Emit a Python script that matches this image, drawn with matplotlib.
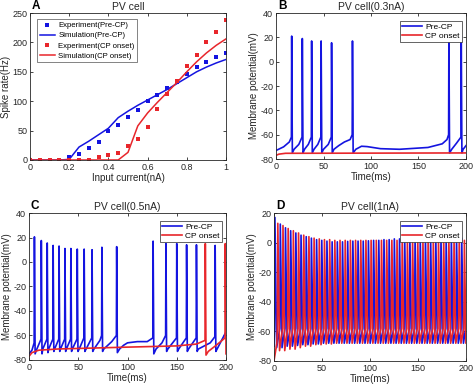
import numpy as np
import matplotlib
matplotlib.use("Agg")
import matplotlib.pyplot as plt

plt.rcParams['font.family'] = ['Liberation Sans', 'DejaVu Sans']
plt.rcParams['axes.unicode_minus'] = False

BLUE = '#1414e0'
RED = '#e8262b'
TXT = '#262626'

# ---- panel A: f-I curves
current = [0, 0.05, 0.1, 0.15, 0.2, 0.25, 0.3, 0.35, 0.4, 0.45, 0.5,
           0.55, 0.6, 0.65, 0.7, 0.75, 0.8, 0.85, 0.9, 0.95, 1.0]
exp_pre = [0, 0, 0, 0, 5, 10, 20, 30, 50, 60, 73,
           85, 100, 110, 122, 133, 147, 158, 166, 176, 182]
sim_pre = [0, 0, 0, 0, 1, 22, 32, 43, 54, 72, 83,
           93, 102, 111, 120, 130, 140, 150, 158, 165, 171]
exp_cp = [0, 0, 0, 0, 0, 0, 0, 5, 8, 12, 24,
          36, 56, 86, 112, 135, 160, 178, 200, 218, 238]
sim_cp = [0, 0, 0, 0, 0, 0, 0, 0, 0, 0, 13,
          58, 80, 98, 115, 132, 150, 167, 182, 195, 206]

# ---- panel B (0.3 nA)
b_pre_spk = [16.5, 27.7, 37.5, 47.5, 58.5, 80.5, 182, 195]
b_pre_peak = [21, 19, 17, 17, 15.5, 17, 21, 21]
b_pre_trough = [-75, -75, -75, -75, -75, -75, -75, -75]
b_pre_path = [(0, -73), (8, -70), (14, -66), (16.2, -62),
              (19, -72), (24, -68), (27.4, -62),
              (30, -72), (34, -68), (37.2, -62),
              (40, -72), (44, -68), (47.2, -62),
              (50, -72), (55, -68), (58.2, -62),
              (61, -72), (66, -69), (72, -66), (78, -64), (80.2, -60),
              (84, -72), (90, -69.5), (96, -69.8), (110, -71.5), (130, -72),
              (160, -70.5), (175, -67.5), (180, -64), (181.7, -60),
              (185, -72), (190, -67), (194.7, -62),
              (197, -72), (200, -69)]
b_cp_spk, b_cp_peak, b_cp_trough = [], [], []
b_cp_path = [(0, -77), (3, -76), (10, -75.3), (200, -75)]

# ---- panel C (0.5 nA)
c_pre_spk = [5.5, 12.5, 18.5, 24.5, 30.5, 36.5, 42.5, 49, 56, 64, 74, 89,
             126, 139, 150, 160, 170, 189]
c_pre_peak = [20.5, 17.5, 15.5, 13.5, 13, 11, 11, 10.5, 10.5, 10, 12, 12.5,
              17, 15, 15, 14, 14, 13.5]
c_pre_trough = [-75, -75, -74, -73, -73, -73, -73, -73, -73, -73, -73, -74,
                -75, -73, -73, -73, -73, -73]
c_pre_path = [(0, -75), (3, -72), (5.2, -66),
              (8, -71), (12.2, -63),
              (14, -71), (18.2, -63),
              (20, -71), (24.2, -63),
              (26, -71), (30.2, -63),
              (32, -71), (36.2, -63),
              (38, -71), (42.2, -63),
              (44, -71), (48.7, -63),
              (51, -71), (55.7, -62),
              (58, -71), (63.7, -62),
              (66, -71), (72, -64), (73.7, -60),
              (76, -71), (84, -65), (88.7, -60),
              (92, -71), (96, -68), (100, -66), (110, -65), (120, -65), (125.7, -62),
              (129, -71), (135, -66), (138.7, -60),
              (141, -71), (149.7, -62),
              (152, -71), (159.7, -62),
              (162, -71), (169.7, -62),
              (172, -71), (184, -66), (188.7, -61),
              (191, -71), (200, -57)]
c_cp_spk = [179, 199.3]
c_cp_peak = [15, 15]
c_cp_trough = [-76, -75]
c_cp_path = [(0, -77), (3, -74), (10, -72), (30, -71), (100, -69.5),
             (150, -68.5), (170, -67), (178.7, -64),
             (182, -73), (190, -68), (199, -62)]

# ---- panel D (1 nA)
d_pre_spk = [1.0, 6.6, 12.0, 17.4, 22.8, 28.2, 33.6, 39.0, 44.4, 49.8,
             55.2, 60.6, 66.0, 71.4, 76.8, 82.2, 87.6, 93.0, 98.4, 103.8,
             109.2, 114.6, 120.0, 125.4, 130.8, 136.2, 141.6, 147.0, 152.4,
             157.8, 163.2, 168.6, 174.0, 179.4, 184.8, 190.2, 195.6]
d_pre_peak = [17, 12.5, 10, 8, 6.5, 5, 4, 3, 2, 1.5,
              1, 0.5, 0.5, 0.5, 0.8, 1, 1, 1, 1.2, 1.5,
              1.5, 2, 2, 2.5, 2.5, 3, 3, 3, 3,
              3, 3, 3, 3, 3, 3, 3, 3]
d_pre_trough = [-71, -71, -70, -70, -69.5, -69, -69, -68.5, -68.5, -68,
                -68, -68, -68, -68, -68, -68, -68, -68, -68, -68,
                -68, -68, -68, -68, -68, -68, -68, -68, -68,
                -68, -68, -68, -68, -68, -68, -68, -68]
d_pre_path = [(0, -70), (200, -57)]
d_cp_spk = [4.0, 9.4, 14.8, 20.2, 25.6, 31.0, 36.4, 41.8, 47.2, 52.6,
            58.0, 63.4, 68.8, 74.2, 79.6, 85.0, 90.4, 95.8, 101.2, 106.6,
            112.0, 117.4, 122.8, 128.2, 133.6, 139.0, 144.4, 149.8, 155.2,
            160.6, 166.0, 171.4, 176.8, 182.2, 187.6, 193.0, 198.4]
d_cp_peak = [13, 11.5, 9.5, 8, 6.5, 5, 4, 3, 2.5, 2,
             2, 1.5, 1.5, 1.5, 1.5, 1.5, 1.5, 1.5, 1.5, 1.5,
             1.5, 1.5, 1.5, 1.5, 1.5, 1.5, 1.5, 1.5, 1.5,
             1.5, 1.5, 1.5, 1.5, 1.5, 1.5, 1.5, 1.5]
d_cp_trough = [-73, -73, -72, -72, -71, -70, -70, -69, -69, -68.5,
               -68.5, -68, -68, -68, -68, -68, -68, -68, -68, -68,
               -68, -68, -68, -68, -68, -68, -68, -68, -68,
               -68, -68, -68, -68, -68, -68, -68, -68]
d_cp_path = [(0, -80), (3, -68), (200, -68)]
d_pre_level = -58
d_cp_level = -58


def build_trace(spk, peak, trough, path, pre=None, fall=0.7):
    # vertices: read waypoints plus spike peak / after-spike trough
    pts = list(path)
    for i, t in enumerate(spk):
        if pre is not None:
            pts.append((t - 0.5, pre))
        pts.append((t, peak[i]))
        pts.append((t + fall, trough[i]))
    pts.sort(key=lambda p: p[0])
    pts = np.array(pts)
    return pts[:, 0], pts[:, 1]


def style_axes(ax, title, letter):
    ax.tick_params(direction='in', length=2.5, width=0.6, labelsize=6.5,
                   colors=TXT, top=True, right=True, pad=2)
    for s in ax.spines.values():
        s.set_linewidth(0.6)
        s.set_color(TXT)
    ax.set_title(title, fontsize=7.5, color=TXT, pad=2)
    ax.text(0.01, 1.005, letter, transform=ax.transAxes, fontsize=8.5,
            fontweight='bold', ha='left', va='bottom', color='k')


fig = plt.figure(figsize=(4.74, 3.87), dpi=100)

# A
axA = fig.add_axes([0.0633, 0.5866, 0.4135, 0.3798])
axA.plot(current, exp_pre, 's', color=BLUE, ms=2.2, mew=0,
         label='Experiment(Pre-CP)')
axA.plot(current, sim_pre, '-', color=BLUE, lw=1.1, label='Simulation(Pre-CP)')
axA.plot(current, exp_cp, 's', color=RED, ms=2.2, mew=0,
         label='Experiment(CP onset)')
axA.plot(current, sim_cp, '-', color=RED, lw=1.1, label='Simulation(CP onset)')
axA.set_xlim(0, 1)
axA.set_ylim(0, 250)
axA.set_xticks([0, 0.2, 0.4, 0.6, 0.8, 1])
axA.set_xticklabels(['0', '0.2', '0.4', '0.6', '0.8', '1'])
axA.set_yticks([0, 50, 100, 150, 200, 250])
axA.set_xlabel('Input current(nA)', fontsize=7, color=TXT, labelpad=1)
axA.set_ylabel('Spike rate(Hz)', fontsize=7, color=TXT, labelpad=1)
style_axes(axA, 'PV cell', 'A')
legA = axA.legend(loc='upper left', fontsize=5.6, frameon=True, fancybox=False,
                  edgecolor=TXT, handlelength=2.0, borderpad=0.35,
                  labelspacing=0.35, handletextpad=0.4,
                  bbox_to_anchor=(0.015, 0.985))
legA.get_frame().set_linewidth(0.5)

panels = [
    ([0.5823, 0.5891, 0.4008, 0.3773], 'PV cell(0.3nA)', 'B',
     (b_pre_spk, b_pre_peak, b_pre_trough, b_pre_path, None, 0.7),
     (b_cp_spk, b_cp_peak, b_cp_trough, b_cp_path, None, 0.7),
     (-80, 40), [-80, -60, -40, -20, 0, 20, 40]),
    ([0.0612, 0.0698, 0.4156, 0.3798], 'PV cell(0.5nA)', 'C',
     (c_pre_spk, c_pre_peak, c_pre_trough, c_pre_path, None, 0.7),
     (c_cp_spk, c_cp_peak, c_cp_trough, c_cp_path, None, 0.7),
     (-80, 40), [-80, -60, -40, -20, 0, 20, 40]),
    ([0.578, 0.0672, 0.405, 0.3824], 'PV cell(1nA)', 'D',
     (d_pre_spk, d_pre_peak, d_pre_trough, d_pre_path, d_pre_level, 1.8),
     (d_cp_spk, d_cp_peak, d_cp_trough, d_cp_path, d_cp_level, 1.8),
     (-80, 20), [-80, -60, -40, -20, 0, 20]),
]

for rect, title, letter, pre, cp, ylim, yt in panels:
    ax = fig.add_axes(rect)
    tx, vx = build_trace(*pre)
    ax.plot(tx, vx, color=BLUE, lw=1.2, label='Pre-CP')
    tx, vx = build_trace(*cp)
    ax.plot(tx, vx, color=RED, lw=1.2, label='CP onset')
    ax.set_xlim(0, 200)
    ax.set_ylim(*ylim)
    ax.set_xticks([0, 50, 100, 150, 200])
    ax.set_yticks(yt)
    ax.set_xlabel('Time(ms)', fontsize=7, color=TXT, labelpad=1)
    ax.set_ylabel('Membrane potential(mV)', fontsize=7, color=TXT, labelpad=1)
    style_axes(ax, title, letter)
    leg = ax.legend(loc='upper right', fontsize=6, frameon=True, fancybox=False,
                    edgecolor=TXT, handlelength=2.4, borderpad=0.25,
                    labelspacing=0.15, handletextpad=0.4,
                    bbox_to_anchor=(1.0, 0.975), framealpha=1)
    leg.get_frame().set_linewidth(0.5)

fig.savefig('out.png', dpi=100)
